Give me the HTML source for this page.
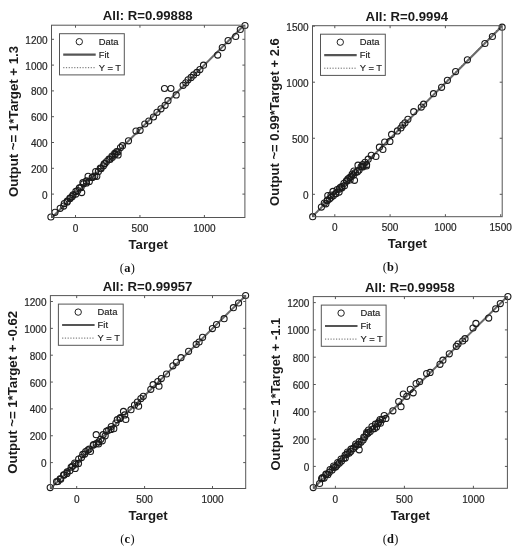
<!DOCTYPE html>
<html><head><meta charset="utf-8"><style>
html,body{margin:0;padding:0;background:#fff;}
svg{display:block;filter:blur(0.3px);}
.tk{font-family:"Liberation Sans", Arial, sans-serif;font-size:10px;fill:#262626;stroke:#262626;stroke-width:0.2px;}
.bd{font-family:"Liberation Sans", Arial, sans-serif;font-size:13.2px;font-weight:bold;fill:#1a1a1a;}
.lg{font-family:"Liberation Sans", Arial, sans-serif;font-size:9.4px;fill:#1a1a1a;stroke:#1a1a1a;stroke-width:0.15px;}
.cap{font-family:"Liberation Serif", "Times New Roman", serif;font-size:12.4px;letter-spacing:0.3px;fill:#111;}
</style></head><body>
<svg width="516" height="550" viewBox="0 0 516 550">
<clipPath id="cla"><rect x="51.50" y="25.20" width="193.40" height="192.30"/></clipPath>
<g clip-path="url(#cla)">
<line x1="51.50" y1="218.12" x2="244.90" y2="24.57" stroke="#444" stroke-width="1" stroke-dasharray="1.2 1.55"/>
<line x1="51.50" y1="217.95" x2="244.90" y2="24.40" stroke="#6a6a6a" stroke-width="2"/>
</g>
<g fill="none" stroke="#1a1a1a" stroke-width="1.1"><circle cx="50.9" cy="217.0" r="3.05"/><circle cx="55.0" cy="212.3" r="3.05"/><circle cx="60.2" cy="208.3" r="3.05"/><circle cx="64.3" cy="203.6" r="3.05"/><circle cx="67.2" cy="201.9" r="3.05"/><circle cx="70.1" cy="198.4" r="3.05"/><circle cx="73.0" cy="194.9" r="3.05"/><circle cx="75.9" cy="191.4" r="3.05"/><circle cx="81.7" cy="192.6" r="3.05"/><circle cx="79.4" cy="187.9" r="3.05"/><circle cx="82.9" cy="182.7" r="3.05"/><circle cx="86.4" cy="180.9" r="3.05"/><circle cx="88.1" cy="176.3" r="3.05"/><circle cx="92.2" cy="177.4" r="3.05"/><circle cx="96.8" cy="176.3" r="3.05"/><circle cx="95.7" cy="171.6" r="3.05"/><circle cx="100.3" cy="168.1" r="3.05"/><circle cx="105.0" cy="163.5" r="3.05"/><circle cx="108.9" cy="159.2" r="3.05"/><circle cx="114.7" cy="153.4" r="3.05"/><circle cx="116.7" cy="151.5" r="3.05"/><circle cx="118.1" cy="154.9" r="3.05"/><circle cx="120.5" cy="147.6" r="3.05"/><circle cx="122.5" cy="145.7" r="3.05"/><circle cx="103.5" cy="165.8" r="3.05"/><circle cx="112.0" cy="156.0" r="3.05"/><circle cx="128.5" cy="140.8" r="3.05"/><circle cx="136.0" cy="131.0" r="3.05"/><circle cx="140.1" cy="130.3" r="3.05"/><circle cx="144.8" cy="124.0" r="3.05"/><circle cx="148.8" cy="121.0" r="3.05"/><circle cx="153.5" cy="117.0" r="3.05"/><circle cx="157.0" cy="112.3" r="3.05"/><circle cx="161.0" cy="108.8" r="3.05"/><circle cx="165.1" cy="105.3" r="3.05"/><circle cx="168.0" cy="100.7" r="3.05"/><circle cx="176.2" cy="94.9" r="3.05"/><circle cx="164.5" cy="88.5" r="3.05"/><circle cx="170.9" cy="88.5" r="3.05"/><circle cx="183.1" cy="85.3" r="3.05"/><circle cx="185.8" cy="82.8" r="3.05"/><circle cx="188.1" cy="79.8" r="3.05"/><circle cx="191.1" cy="77.4" r="3.05"/><circle cx="193.6" cy="74.9" r="3.05"/><circle cx="196.9" cy="72.4" r="3.05"/><circle cx="199.9" cy="69.6" r="3.05"/><circle cx="203.5" cy="65.2" r="3.05"/><circle cx="217.7" cy="55.1" r="3.05"/><circle cx="222.3" cy="47.6" r="3.05"/><circle cx="228.1" cy="40.6" r="3.05"/><circle cx="235.7" cy="36.5" r="3.05"/><circle cx="240.3" cy="29.5" r="3.05"/><circle cx="245.0" cy="25.5" r="3.05"/><circle cx="63.7" cy="206.1" r="3.05"/><circle cx="67.2" cy="201.2" r="3.05"/><circle cx="70.0" cy="198.1" r="3.05"/><circle cx="72.1" cy="196.7" r="3.05"/><circle cx="75.8" cy="194.1" r="3.05"/><circle cx="77.8" cy="190.6" r="3.05"/><circle cx="81.0" cy="187.4" r="3.05"/><circle cx="83.6" cy="183.8" r="3.05"/><circle cx="86.5" cy="182.9" r="3.05"/><circle cx="89.3" cy="181.4" r="3.05"/><circle cx="92.8" cy="176.8" r="3.05"/><circle cx="94.8" cy="176.1" r="3.05"/><circle cx="98.4" cy="171.4" r="3.05"/><circle cx="101.0" cy="168.7" r="3.05"/><circle cx="104.2" cy="163.8" r="3.05"/><circle cx="106.6" cy="161.5" r="3.05"/><circle cx="110.0" cy="159.5" r="3.05"/><circle cx="112.4" cy="157.3" r="3.05"/><circle cx="115.2" cy="154.4" r="3.05"/><circle cx="118.1" cy="151.8" r="3.05"/></g>
<rect x="51.50" y="25.20" width="193.40" height="192.30" fill="none" stroke="#555" stroke-width="1"/>
<text x="75.50" y="231.70" text-anchor="middle" class="tk">0</text>
<text x="139.95" y="231.70" text-anchor="middle" class="tk">500</text>
<text x="204.40" y="231.70" text-anchor="middle" class="tk">1000</text>
<text x="47.60" y="198.60" text-anchor="end" class="tk">0</text>
<text x="47.60" y="172.80" text-anchor="end" class="tk">200</text>
<text x="47.60" y="147.00" text-anchor="end" class="tk">400</text>
<text x="47.60" y="121.20" text-anchor="end" class="tk">600</text>
<text x="47.60" y="95.40" text-anchor="end" class="tk">800</text>
<text x="47.60" y="69.60" text-anchor="end" class="tk">1000</text>
<text x="47.60" y="43.80" text-anchor="end" class="tk">1200</text>
<path d="M75.50 217.50v-2.5M75.50 25.20v2.5M139.95 217.50v-2.5M139.95 25.20v2.5M204.40 217.50v-2.5M204.40 25.20v2.5M51.50 194.10h2.5M244.90 194.10h-2.5M51.50 168.30h2.5M244.90 168.30h-2.5M51.50 142.50h2.5M244.90 142.50h-2.5M51.50 116.70h2.5M244.90 116.70h-2.5M51.50 90.90h2.5M244.90 90.90h-2.5M51.50 65.10h2.5M244.90 65.10h-2.5M51.50 39.30h2.5M244.90 39.30h-2.5" stroke="#555" stroke-width="1" fill="none"/>
<text x="147.70" y="20.20" text-anchor="middle" class="bd">All: R=0.99888</text>
<text x="148.20" y="249.20" text-anchor="middle" class="bd">Target</text>
<text transform="translate(17.90,121.55) rotate(-90)" text-anchor="middle" class="bd">Output ~= 1*Target + 1.3</text>
<text x="127.55" y="271.70" text-anchor="middle" class="cap">(<tspan font-weight="bold">a</tspan>)</text>
<rect x="59.50" y="33.70" width="64.8" height="41.2" fill="#fff" stroke="#555" stroke-width="1"/>
<circle cx="79.30" cy="41.70" r="3.2" fill="none" stroke="#222" stroke-width="1"/>
<text x="98.70" y="44.70" class="lg">Data</text>
<line x1="63.20" y1="54.60" x2="95.70" y2="54.60" stroke="#555" stroke-width="2.2"/>
<text x="98.70" y="57.90" class="lg">Fit</text>
<line x1="63.20" y1="67.70" x2="95.70" y2="67.70" stroke="#555" stroke-width="0.9" stroke-dasharray="1.2 1.55"/>
<text x="98.70" y="70.80" class="lg">Y = T</text>
<clipPath id="clb"><rect x="312.50" y="25.70" width="189.70" height="191.00"/></clipPath>
<g clip-path="url(#clb)">
<line x1="312.50" y1="216.90" x2="502.20" y2="24.63" stroke="#444" stroke-width="1" stroke-dasharray="1.2 1.55"/>
<line x1="312.50" y1="216.38" x2="502.20" y2="26.03" stroke="#6a6a6a" stroke-width="2"/>
</g>
<g fill="none" stroke="#1a1a1a" stroke-width="1.1"><circle cx="312.7" cy="216.7" r="3.05"/><circle cx="321.4" cy="207.1" r="3.05"/><circle cx="324.3" cy="203.0" r="3.05"/><circle cx="327.2" cy="200.7" r="3.05"/><circle cx="327.8" cy="195.5" r="3.05"/><circle cx="331.3" cy="197.2" r="3.05"/><circle cx="333.0" cy="191.4" r="3.05"/><circle cx="335.9" cy="193.7" r="3.05"/><circle cx="339.4" cy="189.1" r="3.05"/><circle cx="341.7" cy="186.7" r="3.05"/><circle cx="344.0" cy="183.3" r="3.05"/><circle cx="347.0" cy="180.9" r="3.05"/><circle cx="349.9" cy="177.4" r="3.05"/><circle cx="352.2" cy="174.0" r="3.05"/><circle cx="353.9" cy="171.0" r="3.05"/><circle cx="354.5" cy="180.3" r="3.05"/><circle cx="358.0" cy="165.2" r="3.05"/><circle cx="362.7" cy="164.7" r="3.05"/><circle cx="365.0" cy="162.3" r="3.05"/><circle cx="366.6" cy="164.7" r="3.05"/><circle cx="371.3" cy="155.3" r="3.05"/><circle cx="375.9" cy="156.5" r="3.05"/><circle cx="379.4" cy="147.2" r="3.05"/><circle cx="382.9" cy="149.5" r="3.05"/><circle cx="384.7" cy="142.0" r="3.05"/><circle cx="389.9" cy="141.4" r="3.05"/><circle cx="391.6" cy="134.4" r="3.05"/><circle cx="397.4" cy="130.9" r="3.05"/><circle cx="400.9" cy="128.0" r="3.05"/><circle cx="402.7" cy="125.1" r="3.05"/><circle cx="405.0" cy="122.8" r="3.05"/><circle cx="407.9" cy="119.3" r="3.05"/><circle cx="413.7" cy="111.7" r="3.05"/><circle cx="421.3" cy="107.1" r="3.05"/><circle cx="423.6" cy="104.2" r="3.05"/><circle cx="433.5" cy="93.7" r="3.05"/><circle cx="441.6" cy="87.3" r="3.05"/><circle cx="447.4" cy="80.3" r="3.05"/><circle cx="455.6" cy="71.6" r="3.05"/><circle cx="467.4" cy="59.8" r="3.05"/><circle cx="484.9" cy="43.5" r="3.05"/><circle cx="492.4" cy="36.5" r="3.05"/><circle cx="502.1" cy="27.2" r="3.05"/><circle cx="325.9" cy="203.8" r="3.05"/><circle cx="327.4" cy="200.0" r="3.05"/><circle cx="329.6" cy="198.8" r="3.05"/><circle cx="331.0" cy="195.1" r="3.05"/><circle cx="333.3" cy="195.7" r="3.05"/><circle cx="335.6" cy="193.6" r="3.05"/><circle cx="337.2" cy="189.6" r="3.05"/><circle cx="339.1" cy="192.1" r="3.05"/><circle cx="340.1" cy="187.5" r="3.05"/><circle cx="342.0" cy="187.8" r="3.05"/><circle cx="344.5" cy="185.7" r="3.05"/><circle cx="346.4" cy="180.8" r="3.05"/><circle cx="348.0" cy="178.9" r="3.05"/><circle cx="350.1" cy="180.0" r="3.05"/><circle cx="351.3" cy="176.5" r="3.05"/><circle cx="353.4" cy="175.2" r="3.05"/><circle cx="355.4" cy="172.6" r="3.05"/><circle cx="357.4" cy="171.8" r="3.05"/><circle cx="359.1" cy="170.1" r="3.05"/><circle cx="361.2" cy="166.6" r="3.05"/><circle cx="362.5" cy="166.9" r="3.05"/><circle cx="363.9" cy="166.1" r="3.05"/><circle cx="366.5" cy="166.0" r="3.05"/><circle cx="368.2" cy="159.2" r="3.05"/></g>
<rect x="312.50" y="25.70" width="189.70" height="191.00" fill="none" stroke="#555" stroke-width="1"/>
<text x="334.80" y="230.90" text-anchor="middle" class="tk">0</text>
<text x="390.10" y="230.90" text-anchor="middle" class="tk">500</text>
<text x="445.40" y="230.90" text-anchor="middle" class="tk">1000</text>
<text x="500.70" y="230.90" text-anchor="middle" class="tk">1500</text>
<text x="308.60" y="198.80" text-anchor="end" class="tk">0</text>
<text x="308.60" y="142.75" text-anchor="end" class="tk">500</text>
<text x="308.60" y="86.70" text-anchor="end" class="tk">1000</text>
<text x="308.60" y="30.65" text-anchor="end" class="tk">1500</text>
<path d="M334.80 216.70v-2.5M334.80 25.70v2.5M390.10 216.70v-2.5M390.10 25.70v2.5M445.40 216.70v-2.5M445.40 25.70v2.5M500.70 216.70v-2.5M500.70 25.70v2.5M312.50 194.30h2.5M502.20 194.30h-2.5M312.50 138.25h2.5M502.20 138.25h-2.5M312.50 82.20h2.5M502.20 82.20h-2.5M312.50 26.15h2.5M502.20 26.15h-2.5" stroke="#555" stroke-width="1" fill="none"/>
<text x="406.85" y="20.70" text-anchor="middle" class="bd">All: R=0.9994</text>
<text x="407.35" y="248.40" text-anchor="middle" class="bd">Target</text>
<text transform="translate(278.90,122.05) rotate(-90)" text-anchor="middle" class="bd" textLength="167.8" lengthAdjust="spacingAndGlyphs">Output ~= 0.99*Target + 2.6</text>
<text x="390.70" y="270.90" text-anchor="middle" class="cap">(<tspan font-weight="bold">b</tspan>)</text>
<rect x="320.50" y="34.20" width="64.8" height="41.2" fill="#fff" stroke="#555" stroke-width="1"/>
<circle cx="340.30" cy="42.20" r="3.2" fill="none" stroke="#222" stroke-width="1"/>
<text x="359.70" y="45.20" class="lg">Data</text>
<line x1="324.20" y1="55.10" x2="356.70" y2="55.10" stroke="#555" stroke-width="2.2"/>
<text x="359.70" y="58.40" class="lg">Fit</text>
<line x1="324.20" y1="68.20" x2="356.70" y2="68.20" stroke="#555" stroke-width="0.9" stroke-dasharray="1.2 1.55"/>
<text x="359.70" y="71.30" class="lg">Y = T</text>
<clipPath id="clc"><rect x="50.40" y="295.60" width="195.30" height="192.90"/></clipPath>
<g clip-path="url(#clc)">
<line x1="50.40" y1="488.60" x2="245.70" y2="295.53" stroke="#444" stroke-width="1" stroke-dasharray="1.2 1.55"/>
<line x1="50.40" y1="488.68" x2="245.70" y2="295.61" stroke="#6a6a6a" stroke-width="2"/>
</g>
<g fill="none" stroke="#1a1a1a" stroke-width="1.1"><circle cx="50.2" cy="487.6" r="3.05"/><circle cx="56.6" cy="481.7" r="3.05"/><circle cx="60.1" cy="478.8" r="3.05"/><circle cx="63.6" cy="474.8" r="3.05"/><circle cx="67.1" cy="471.9" r="3.05"/><circle cx="71.2" cy="467.2" r="3.05"/><circle cx="75.2" cy="468.4" r="3.05"/><circle cx="74.7" cy="463.1" r="3.05"/><circle cx="78.7" cy="459.1" r="3.05"/><circle cx="82.8" cy="454.4" r="3.05"/><circle cx="85.7" cy="451.5" r="3.05"/><circle cx="89.2" cy="449.2" r="3.05"/><circle cx="93.3" cy="445.1" r="3.05"/><circle cx="96.2" cy="434.7" r="3.05"/><circle cx="98.5" cy="444.0" r="3.05"/><circle cx="100.8" cy="439.3" r="3.05"/><circle cx="103.1" cy="434.7" r="3.05"/><circle cx="106.6" cy="431.2" r="3.05"/><circle cx="111.3" cy="426.5" r="3.05"/><circle cx="115.9" cy="423.0" r="3.05"/><circle cx="120.0" cy="418.4" r="3.05"/><circle cx="123.5" cy="411.4" r="3.05"/><circle cx="125.8" cy="419.5" r="3.05"/><circle cx="124.7" cy="414.9" r="3.05"/><circle cx="131.0" cy="409.7" r="3.05"/><circle cx="134.5" cy="405.0" r="3.05"/><circle cx="138.6" cy="406.2" r="3.05"/><circle cx="137.4" cy="402.1" r="3.05"/><circle cx="140.9" cy="398.6" r="3.05"/><circle cx="143.3" cy="396.3" r="3.05"/><circle cx="150.8" cy="389.3" r="3.05"/><circle cx="153.1" cy="384.7" r="3.05"/><circle cx="157.8" cy="381.5" r="3.05"/><circle cx="159.0" cy="386.2" r="3.05"/><circle cx="161.3" cy="378.6" r="3.05"/><circle cx="166.5" cy="374.0" r="3.05"/><circle cx="172.9" cy="365.8" r="3.05"/><circle cx="176.4" cy="362.3" r="3.05"/><circle cx="181.0" cy="357.7" r="3.05"/><circle cx="188.6" cy="351.3" r="3.05"/><circle cx="196.2" cy="344.3" r="3.05"/><circle cx="199.1" cy="342.0" r="3.05"/><circle cx="202.6" cy="337.3" r="3.05"/><circle cx="212.4" cy="328.6" r="3.05"/><circle cx="216.5" cy="324.5" r="3.05"/><circle cx="224.1" cy="318.7" r="3.05"/><circle cx="233.4" cy="307.7" r="3.05"/><circle cx="238.6" cy="303.0" r="3.05"/><circle cx="245.6" cy="295.5" r="3.05"/><circle cx="57.9" cy="481.5" r="3.05"/><circle cx="60.7" cy="479.2" r="3.05"/><circle cx="64.2" cy="475.1" r="3.05"/><circle cx="67.0" cy="473.4" r="3.05"/><circle cx="69.8" cy="470.7" r="3.05"/><circle cx="72.7" cy="466.1" r="3.05"/><circle cx="75.8" cy="464.1" r="3.05"/><circle cx="78.5" cy="463.4" r="3.05"/><circle cx="81.5" cy="457.6" r="3.05"/><circle cx="84.7" cy="454.1" r="3.05"/><circle cx="87.9" cy="450.1" r="3.05"/><circle cx="90.5" cy="451.5" r="3.05"/><circle cx="93.7" cy="444.7" r="3.05"/><circle cx="96.2" cy="443.7" r="3.05"/><circle cx="98.8" cy="441.8" r="3.05"/><circle cx="102.3" cy="440.8" r="3.05"/><circle cx="105.2" cy="435.8" r="3.05"/><circle cx="108.7" cy="430.1" r="3.05"/><circle cx="111.0" cy="429.4" r="3.05"/><circle cx="113.8" cy="428.7" r="3.05"/><circle cx="117.3" cy="419.7" r="3.05"/><circle cx="120.4" cy="417.5" r="3.05"/></g>
<rect x="50.40" y="295.60" width="195.30" height="192.90" fill="none" stroke="#555" stroke-width="1"/>
<text x="76.70" y="502.70" text-anchor="middle" class="tk">0</text>
<text x="144.60" y="502.70" text-anchor="middle" class="tk">500</text>
<text x="212.50" y="502.70" text-anchor="middle" class="tk">1000</text>
<text x="46.50" y="467.10" text-anchor="end" class="tk">0</text>
<text x="46.50" y="440.25" text-anchor="end" class="tk">200</text>
<text x="46.50" y="413.40" text-anchor="end" class="tk">400</text>
<text x="46.50" y="386.55" text-anchor="end" class="tk">600</text>
<text x="46.50" y="359.70" text-anchor="end" class="tk">800</text>
<text x="46.50" y="332.85" text-anchor="end" class="tk">1000</text>
<text x="46.50" y="306.00" text-anchor="end" class="tk">1200</text>
<path d="M76.70 488.50v-2.5M76.70 295.60v2.5M144.60 488.50v-2.5M144.60 295.60v2.5M212.50 488.50v-2.5M212.50 295.60v2.5M50.40 462.60h2.5M245.70 462.60h-2.5M50.40 435.75h2.5M245.70 435.75h-2.5M50.40 408.90h2.5M245.70 408.90h-2.5M50.40 382.05h2.5M245.70 382.05h-2.5M50.40 355.20h2.5M245.70 355.20h-2.5M50.40 328.35h2.5M245.70 328.35h-2.5M50.40 301.50h2.5M245.70 301.50h-2.5" stroke="#555" stroke-width="1" fill="none"/>
<text x="147.55" y="290.60" text-anchor="middle" class="bd">All: R=0.99957</text>
<text x="148.05" y="520.20" text-anchor="middle" class="bd">Target</text>
<text transform="translate(16.80,392.25) rotate(-90)" text-anchor="middle" class="bd">Output ~= 1*Target + -0.62</text>
<text x="127.50" y="542.70" text-anchor="middle" class="cap">(<tspan font-weight="bold">c</tspan>)</text>
<rect x="58.40" y="304.10" width="64.8" height="41.2" fill="#fff" stroke="#555" stroke-width="1"/>
<circle cx="78.20" cy="312.10" r="3.2" fill="none" stroke="#222" stroke-width="1"/>
<text x="97.60" y="315.10" class="lg">Data</text>
<line x1="62.10" y1="325.00" x2="94.60" y2="325.00" stroke="#555" stroke-width="2.2"/>
<text x="97.60" y="328.30" class="lg">Fit</text>
<line x1="62.10" y1="338.10" x2="94.60" y2="338.10" stroke="#555" stroke-width="0.9" stroke-dasharray="1.2 1.55"/>
<text x="97.60" y="341.20" class="lg">Y = T</text>
<clipPath id="cld"><rect x="313.30" y="296.60" width="194.10" height="191.70"/></clipPath>
<g clip-path="url(#cld)">
<line x1="313.30" y1="488.26" x2="507.40" y2="296.27" stroke="#444" stroke-width="1" stroke-dasharray="1.2 1.55"/>
<line x1="313.30" y1="488.41" x2="507.40" y2="296.42" stroke="#6a6a6a" stroke-width="2"/>
</g>
<g fill="none" stroke="#1a1a1a" stroke-width="1.1"><circle cx="313.2" cy="487.6" r="3.05"/><circle cx="319.6" cy="483.5" r="3.05"/><circle cx="322.5" cy="477.7" r="3.05"/><circle cx="326.0" cy="474.2" r="3.05"/><circle cx="330.1" cy="469.5" r="3.05"/><circle cx="333.6" cy="466.0" r="3.05"/><circle cx="337.7" cy="462.6" r="3.05"/><circle cx="341.1" cy="459.1" r="3.05"/><circle cx="345.2" cy="455.0" r="3.05"/><circle cx="347.5" cy="452.1" r="3.05"/><circle cx="351.0" cy="449.2" r="3.05"/><circle cx="355.7" cy="444.0" r="3.05"/><circle cx="359.2" cy="449.8" r="3.05"/><circle cx="359.2" cy="441.6" r="3.05"/><circle cx="363.8" cy="437.0" r="3.05"/><circle cx="366.7" cy="432.3" r="3.05"/><circle cx="368.5" cy="430.0" r="3.05"/><circle cx="372.0" cy="426.5" r="3.05"/><circle cx="375.4" cy="424.2" r="3.05"/><circle cx="378.9" cy="421.9" r="3.05"/><circle cx="380.1" cy="419.5" r="3.05"/><circle cx="384.2" cy="415.5" r="3.05"/><circle cx="385.9" cy="418.4" r="3.05"/><circle cx="392.9" cy="410.8" r="3.05"/><circle cx="401.0" cy="406.7" r="3.05"/><circle cx="398.7" cy="401.5" r="3.05"/><circle cx="403.3" cy="394.0" r="3.05"/><circle cx="406.8" cy="396.3" r="3.05"/><circle cx="410.3" cy="389.3" r="3.05"/><circle cx="413.2" cy="392.8" r="3.05"/><circle cx="416.1" cy="383.5" r="3.05"/><circle cx="419.6" cy="381.7" r="3.05"/><circle cx="426.6" cy="373.6" r="3.05"/><circle cx="430.1" cy="372.4" r="3.05"/><circle cx="440.0" cy="364.3" r="3.05"/><circle cx="442.9" cy="360.2" r="3.05"/><circle cx="449.3" cy="353.8" r="3.05"/><circle cx="456.3" cy="346.3" r="3.05"/><circle cx="458.0" cy="344.0" r="3.05"/><circle cx="462.7" cy="341.0" r="3.05"/><circle cx="465.0" cy="338.7" r="3.05"/><circle cx="473.0" cy="328.0" r="3.05"/><circle cx="475.9" cy="323.4" r="3.05"/><circle cx="488.7" cy="318.1" r="3.05"/><circle cx="495.7" cy="308.8" r="3.05"/><circle cx="500.3" cy="303.6" r="3.05"/><circle cx="507.9" cy="296.6" r="3.05"/><circle cx="321.6" cy="478.7" r="3.05"/><circle cx="324.1" cy="478.1" r="3.05"/><circle cx="326.1" cy="474.3" r="3.05"/><circle cx="327.8" cy="474.7" r="3.05"/><circle cx="329.3" cy="472.3" r="3.05"/><circle cx="332.1" cy="469.9" r="3.05"/><circle cx="334.1" cy="467.5" r="3.05"/><circle cx="335.8" cy="466.8" r="3.05"/><circle cx="337.2" cy="465.0" r="3.05"/><circle cx="339.3" cy="463.2" r="3.05"/><circle cx="341.5" cy="461.1" r="3.05"/><circle cx="343.7" cy="458.2" r="3.05"/><circle cx="345.3" cy="458.1" r="3.05"/><circle cx="346.8" cy="454.3" r="3.05"/><circle cx="349.2" cy="452.9" r="3.05"/><circle cx="350.9" cy="451.3" r="3.05"/><circle cx="353.2" cy="448.4" r="3.05"/><circle cx="355.2" cy="446.7" r="3.05"/><circle cx="357.3" cy="445.0" r="3.05"/><circle cx="358.9" cy="444.3" r="3.05"/><circle cx="361.1" cy="441.9" r="3.05"/><circle cx="363.1" cy="440.0" r="3.05"/><circle cx="364.7" cy="437.3" r="3.05"/><circle cx="366.5" cy="434.2" r="3.05"/><circle cx="368.2" cy="433.1" r="3.05"/><circle cx="370.2" cy="431.5" r="3.05"/><circle cx="372.7" cy="429.0" r="3.05"/><circle cx="374.5" cy="428.6" r="3.05"/><circle cx="376.5" cy="426.9" r="3.05"/><circle cx="377.9" cy="423.7" r="3.05"/><circle cx="380.4" cy="423.2" r="3.05"/><circle cx="382.3" cy="419.4" r="3.05"/></g>
<rect x="313.30" y="296.60" width="194.10" height="191.70" fill="none" stroke="#555" stroke-width="1"/>
<text x="335.40" y="502.50" text-anchor="middle" class="tk">0</text>
<text x="404.40" y="502.50" text-anchor="middle" class="tk">500</text>
<text x="473.40" y="502.50" text-anchor="middle" class="tk">1000</text>
<text x="309.40" y="470.90" text-anchor="end" class="tk">0</text>
<text x="309.40" y="443.60" text-anchor="end" class="tk">200</text>
<text x="309.40" y="416.30" text-anchor="end" class="tk">400</text>
<text x="309.40" y="389.00" text-anchor="end" class="tk">600</text>
<text x="309.40" y="361.70" text-anchor="end" class="tk">800</text>
<text x="309.40" y="334.40" text-anchor="end" class="tk">1000</text>
<text x="309.40" y="307.10" text-anchor="end" class="tk">1200</text>
<path d="M335.40 488.30v-2.5M335.40 296.60v2.5M404.40 488.30v-2.5M404.40 296.60v2.5M473.40 488.30v-2.5M473.40 296.60v2.5M313.30 466.40h2.5M507.40 466.40h-2.5M313.30 439.10h2.5M507.40 439.10h-2.5M313.30 411.80h2.5M507.40 411.80h-2.5M313.30 384.50h2.5M507.40 384.50h-2.5M313.30 357.20h2.5M507.40 357.20h-2.5M313.30 329.90h2.5M507.40 329.90h-2.5M313.30 302.60h2.5M507.40 302.60h-2.5" stroke="#555" stroke-width="1" fill="none"/>
<text x="409.85" y="291.60" text-anchor="middle" class="bd">All: R=0.99958</text>
<text x="410.35" y="520.00" text-anchor="middle" class="bd">Target</text>
<text transform="translate(279.70,394.15) rotate(-90)" text-anchor="middle" class="bd" textLength="152.9" lengthAdjust="spacingAndGlyphs">Output ~= 1*Target + -1.1</text>
<text x="390.70" y="542.50" text-anchor="middle" class="cap">(<tspan font-weight="bold">d</tspan>)</text>
<rect x="321.30" y="305.10" width="64.8" height="41.2" fill="#fff" stroke="#555" stroke-width="1"/>
<circle cx="341.10" cy="313.10" r="3.2" fill="none" stroke="#222" stroke-width="1"/>
<text x="360.50" y="316.10" class="lg">Data</text>
<line x1="325.00" y1="326.00" x2="357.50" y2="326.00" stroke="#555" stroke-width="2.2"/>
<text x="360.50" y="329.30" class="lg">Fit</text>
<line x1="325.00" y1="339.10" x2="357.50" y2="339.10" stroke="#555" stroke-width="0.9" stroke-dasharray="1.2 1.55"/>
<text x="360.50" y="342.20" class="lg">Y = T</text>
</svg>
</body></html>
